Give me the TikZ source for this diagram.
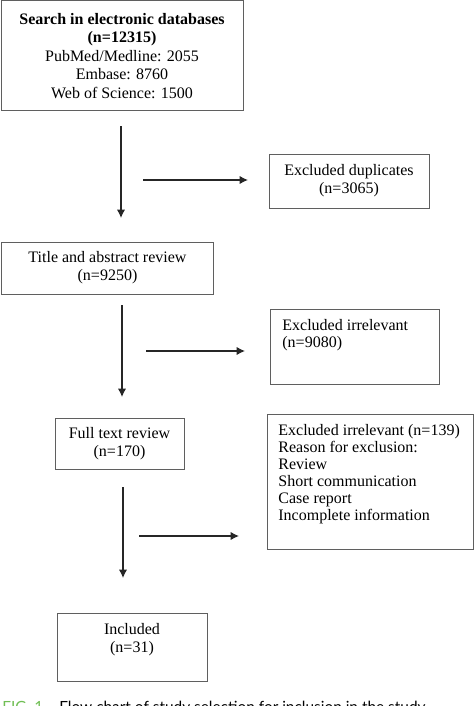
\documentclass[tikz,border=0pt]{standalone}
\usepackage{fontspec}
\setmainfont{Liberation Serif}
\newfontfamily\capfont{Lato}
\usetikzlibrary{arrows.meta, positioning}

\definecolor{figgreen}{RGB}{112,190,84}
\definecolor{boxgray}{RGB}{95,95,95}

\tikzset{
	box/.style={draw=boxgray, line width=0.5pt, inner sep=0pt},
	boxtext/.style={align=center, inner sep=0pt, font=\fontsize{8}{9}\selectfont},
	listtext/.style={align=left, anchor=north west, inner sep=0pt, font=\fontsize{8}{8.5}\selectfont},
	flow/.style={->, line width=0.65pt, draw=black!85},
}

\begin{document}
\begin{tikzpicture}[x=0.5pt, y=-0.5pt, >={Latex[length=4.2pt, width=4.2pt]}]
	\useasboundingbox (0,0) rectangle (474,706);

	% main column
	\node[box, boxtext, minimum width=121pt, minimum height=55pt, font=\fontsize{8}{9.25}\selectfont] (search) at (122,56)
		{\textbf{Search in electronic databases}\\ \textbf{(n=12315)}\\ PubMed/Medline: 2055\\ Embase: 8760\\ Web of Science: 1500};
	\node[box, boxtext, minimum width=106pt, minimum height=26pt] (title) at (107.5,268) {Title and abstract review\\(n=9250)};
	\node[box, boxtext, minimum width=64.5pt, minimum height=25.5pt] (full) at (119.5,443.5) {Full text review\\(n=170)};
	\node[box, minimum width=75pt, minimum height=34pt] (incl) at (132,647) {};
	\node[boxtext, anchor=north] (incltext) at (132,623) {Included\\(n=31)};

	% exclusions
	\node[box, boxtext, minimum width=80pt, minimum height=27pt] (dup) at (349,181) {Excluded duplicates\\(n=3065)};
	\node[box, minimum width=84.5pt, minimum height=37.5pt] (irr) at (354.5,346.5) {};
	\node[listtext] (irrtext) at (282,319) {Excluded irrelevant\\(n=9080)};
	\node[box, minimum width=103pt, minimum height=67.5pt] (reason) at (370,481.5) {};
	\node[listtext] (reasontext) at (278,424) {Excluded irrelevant (n=139)\\Reason for exclusion:\\Review\\Short communication\\Case report\\Incomplete information};

	% arrows
	\coordinate (d1a) at (121,126);
	\coordinate (d1b) at (121,218);
	\coordinate (r1a) at (143,180);
	\coordinate (r1b) at (248,180);
	\coordinate (d2a) at (122,305);
	\coordinate (d2b) at (122,397);
	\coordinate (r2a) at (146,351);
	\coordinate (r2b) at (245,351);
	\coordinate (d3a) at (123,487);
	\coordinate (d3b) at (123,578);
	\coordinate (r3a) at (139,536);
	\coordinate (r3b) at (239,536);
	\draw[flow] (d1a) -- (d1b);
	\draw[flow] (r1a) -- (r1b);
	\draw[flow] (d2a) -- (d2b);
	\draw[flow] (r2a) -- (r2b);
	\draw[flow] (d3a) -- (d3b);
	\draw[flow] (r3a) -- (r3b);

	% caption, cut at the page edge
	\node[anchor=base west, inner sep=0pt, font=\capfont\fontsize{7.7}{9}\selectfont, text=figgreen] (fig) at (2,712) {FIG. 1};
	\node[anchor=base west, inner sep=0pt, font=\capfont\fontsize{7.7}{9}\selectfont] (cap) at (59,712) {Flow chart of study selection for inclusion in the study};
\end{tikzpicture}
\end{document}
